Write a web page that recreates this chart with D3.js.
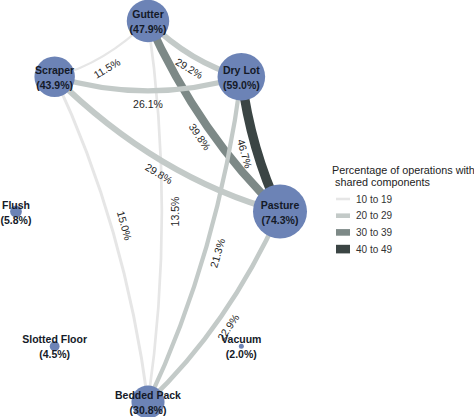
<!DOCTYPE html>
<html>
<head>
<meta charset="utf-8">
<script src="https://cdn.jsdelivr.net/npm/d3@7"></script>
<style>
    body { margin: 0; background: #fff; }
    svg { display: block; font-family: "Liberation Sans", Arial, sans-serif; }
</style>
</head>
<body>
<svg id="chart"></svg>
<script>
    // nodes in circle-layout order, clockwise from the top
    var nodeNames = ['Gutter', 'Dry Lot', 'Pasture', 'Vacuum', 'Bedded Pack', 'Slotted Floor', 'Flush', 'Scraper'];
    var nodeShares = [47.9, 59.0, 74.3, 2.0, 30.8, 4.5, 5.8, 43.9];

    // shared components between two systems (% of operations)
    var edgeFrom = ['Scraper', 'Gutter', 'Gutter', 'Bedded Pack', 'Scraper', 'Scraper', 'Bedded Pack', 'Dry Lot', 'Bedded Pack', 'Bedded Pack'];
    var edgeTo = ['Gutter', 'Dry Lot', 'Pasture', 'Gutter', 'Dry Lot', 'Pasture', 'Scraper', 'Pasture', 'Dry Lot', 'Pasture'];
    var edgeValues = [11.5, 29.2, 39.8, 13.5, 26.1, 29.8, 15.0, 46.7, 21.3, 22.9];

    var legendLabels = ['10 to 19', '20 to 29', '30 to 39', '40 to 49'];
    var legendLows = [10, 20, 30, 40];

    var width = 474,
        height = 417;

    var x = d3.scaleLinear().domain([-1, 1]).range([16, 280]),
        y = d3.scaleLinear().domain([-1, 1]).range([402, 21]),
        r = d3.scaleSqrt().domain([2, 74.3]).range([2.5, 27]),
        w = d3.scaleLinear().domain([0, 50]).range([0, 10]),
        z = d3.scaleThreshold().domain([20, 30, 40]).range(['#e6e6e6', '#c3cac8', '#7d8987', '#3b4544']);

    var bend = 0.105;

    var svg = d3.select('#chart')
        .attr('width', width)
        .attr('height', height);

    // circular layout
    var nodes = nodeNames.map(function (name, i) {
        var a = Math.PI / 2 - i * 2 * Math.PI / nodeNames.length;
        return { name: name, share: nodeShares[i], lx: Math.cos(a), ly: Math.sin(a) };
    });
    var byName = {};
    nodes.forEach(function (n) { byName[n.name] = n; });

    var edges = edgeValues.map(function (v, i) {
        var s = byName[edgeFrom[i]], t = byName[edgeTo[i]];
        var dx = t.lx - s.lx, dy = t.ly - s.ly;
        var cx = (s.lx + t.lx) / 2 + dy * bend,
            cy = (s.ly + t.ly) / 2 - dx * bend;
        var p0 = [x(s.lx), y(s.ly)], p2 = [x(t.lx), y(t.ly)], c = [x(cx), y(cy)];
        var mid = [(p0[0] + 2 * c[0] + p2[0]) / 4, (p0[1] + 2 * c[1] + p2[1]) / 4],
            chordMid = [(p0[0] + p2[0]) / 2, (p0[1] + p2[1]) / 2];
        var ox = mid[0] - chordMid[0], oy = mid[1] - chordMid[1],
            ol = Math.sqrt(ox * ox + oy * oy) || 1;
        var angle = Math.atan2(p2[1] - p0[1], p2[0] - p0[0]) * 180 / Math.PI;
        if (angle >= 90) angle -= 180;
        if (angle < -90) angle += 180;
        return {
            value: v,
            path: 'M' + p0 + 'Q' + c + ' ' + p2,
            lx: mid[0] + ox / ol * 13,
            ly: mid[1] + oy / ol * 13,
            angle: angle
        };
    });

    svg.selectAll('.edge')
        .data(edges)
        .enter()
        .append('path')
        .attr('class', 'edge')
        .attr('d', function (d) { return d.path; })
        .attr('fill', 'none')
        .attr('stroke', function (d) { return z(d.value); })
        .attr('stroke-width', function (d) { return w(d.value); });

    svg.selectAll('.edge-label')
        .data(edges)
        .enter()
        .append('text')
        .attr('class', 'edge-label')
        .attr('transform', function (d) { return 'translate(' + d.lx + ',' + d.ly + ') rotate(' + d.angle + ')'; })
        .attr('dy', '0.35em')
        .attr('text-anchor', 'middle')
        .style('font-size', '10.5px')
        .style('fill', '#262626')
        .text(function (d) { return d.value.toFixed(1) + '%'; });

    svg.selectAll('.node')
        .data(nodes)
        .enter()
        .append('circle')
        .attr('class', 'node')
        .attr('cx', function (d) { return x(d.lx); })
        .attr('cy', function (d) { return y(d.ly); })
        .attr('r', function (d) { return r(d.share); })
        .attr('fill', '#6c83b6');

    var nodeLabel = svg.selectAll('.node-label')
        .data(nodes)
        .enter()
        .append('text')
        .attr('class', 'node-label')
        .attr('text-anchor', 'middle')
        .style('font-size', '10.5px')
        .style('font-weight', 'bold')
        .style('fill', '#141a28');

    nodeLabel.append('tspan')
        .attr('x', function (d) { return x(d.lx); })
        .attr('y', function (d) { return y(d.ly) - 3; })
        .text(function (d) { return d.name; });

    nodeLabel.append('tspan')
        .attr('x', function (d) { return x(d.lx); })
        .attr('y', function (d) { return y(d.ly) + 12; })
        .text(function (d) { return '(' + d.share.toFixed(1) + '%)'; });

    // legend
    var legend = svg.append('g').attr('transform', 'translate(332,0)');

    legend.append('text')
        .attr('x', 0)
        .attr('y', 174)
        .style('font-size', '10.8px')
        .style('fill', '#222')
        .text('Percentage of operations with');

    legend.append('text')
        .attr('x', 3)
        .attr('y', 186)
        .style('font-size', '10.8px')
        .style('fill', '#222')
        .text('shared components');

    var legendItem = legend.selectAll('.legend-item')
        .data(legendLows)
        .enter()
        .append('g')
        .attr('class', 'legend-item')
        .attr('transform', function (d, i) { return 'translate(0,' + (199 + i * 16.7) + ')'; });

    legendItem.append('rect')
        .attr('x', 4)
        .attr('y', function (d) { return -w(d + 3) / 2; })
        .attr('width', 14)
        .attr('height', function (d) { return w(d + 3); })
        .attr('fill', function (d) { return z(d); });

    legendItem.append('text')
        .attr('x', 24)
        .attr('dy', '0.35em')
        .style('font-size', '10px')
        .style('fill', '#333')
        .text(function (d, i) { return legendLabels[i]; });
</script>
</body>
</html>
